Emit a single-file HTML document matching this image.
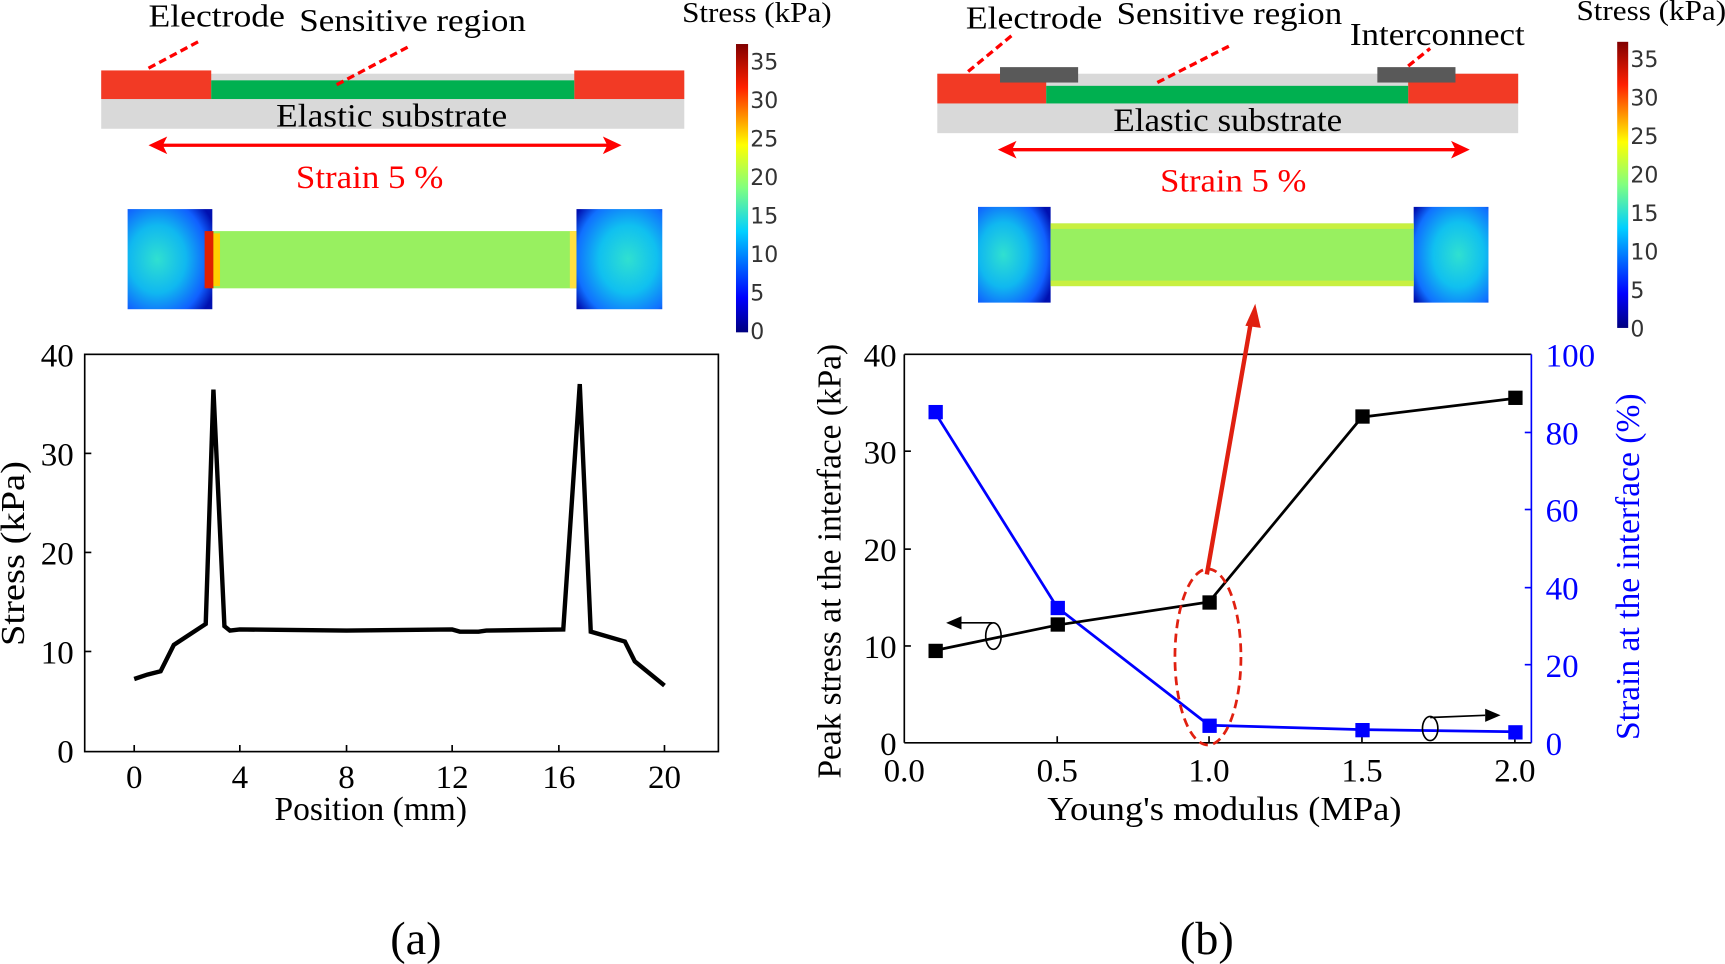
<!DOCTYPE html>
<html><head><meta charset="utf-8"><style>body{margin:0;background:#fff}svg{display:block}</style></head><body>
<svg width="1725" height="964" viewBox="0 0 1568 876" preserveAspectRatio="none" xmlns="http://www.w3.org/2000/svg" font-family="Liberation Serif, serif">
<defs>
<linearGradient id="cb" x1="0" y1="1" x2="0" y2="0">
<stop offset="0" stop-color="#00007f"/><stop offset="0.12" stop-color="#0000ff"/><stop offset="0.35" stop-color="#00d0ff"/><stop offset="0.5" stop-color="#80ff80"/><stop offset="0.65" stop-color="#ffff00"/><stop offset="0.85" stop-color="#ff2000"/><stop offset="1" stop-color="#800000"/></linearGradient>
<radialGradient id="elL" cx="0.35" cy="0.5" r="0.75"><stop offset="0" stop-color="#30e0d0"/><stop offset="0.45" stop-color="#10b8f0"/><stop offset="0.8" stop-color="#1060ff"/><stop offset="1" stop-color="#0010b0"/></radialGradient>
<radialGradient id="elR" cx="0.6" cy="0.5" r="0.75"><stop offset="0" stop-color="#30e0d0"/><stop offset="0.45" stop-color="#10c0f0"/><stop offset="0.8" stop-color="#1070ff"/><stop offset="1" stop-color="#0010b0"/></radialGradient>
</defs>
<!-- left diagram -->
<rect x="92" y="67" width="530" height="50" fill="#d9d9d9"/>
<rect x="92" y="64" width="100" height="26" fill="#f23a25"/><rect x="522" y="64" width="100" height="26" fill="#f23a25"/>
<rect x="192" y="73" width="330" height="17" fill="#00b050"/>
<text x="356" y="115" font-size="30" text-anchor="middle" textLength="210" lengthAdjust="spacingAndGlyphs">Elastic substrate</text>
<text x="135" y="24" font-size="29" textLength="124" lengthAdjust="spacingAndGlyphs">Electrode</text><text x="272" y="28" font-size="29" textLength="206" lengthAdjust="spacingAndGlyphs">Sensitive region</text>
<line x1="135" y1="62" x2="180" y2="38" stroke="red" stroke-width="3" stroke-dasharray="7,4"/>
<line x1="306" y1="77" x2="374" y2="41" stroke="red" stroke-width="3" stroke-dasharray="7,4"/>
<line x1="140" y1="132" x2="560" y2="132" stroke="red" stroke-width="3"/>
<path d="M135,132 L152,124 L148,132 L152,140 z M565,132 L548,124 L552,132 L548,140z" fill="red"/>
<text x="336" y="171" font-size="30" fill="red" text-anchor="middle" textLength="134" lengthAdjust="spacingAndGlyphs">Strain 5 %</text>
<rect x="116" y="190" width="77" height="91" fill="url(#elL)"/><rect x="524" y="190" width="78" height="91" fill="url(#elR)"/>
<rect x="193" y="210" width="331" height="52" fill="#98f060"/>
<rect x="186" y="210" width="8" height="52" fill="#e02000"/><rect x="194" y="212" width="6" height="48" fill="#ffd000"/>
<rect x="518" y="210" width="6" height="52" fill="#ffe040"/>
<rect x="669" y="40" width="11" height="262" fill="url(#cb)"/>
<g font-family="DejaVu Sans, sans-serif" font-size="20" fill="#333"><text x="682" y="63">35</text><text x="682" y="98">30</text><text x="682" y="133">25</text><text x="682" y="168">20</text><text x="682" y="203">15</text><text x="682" y="238">10</text><text x="682" y="273">5</text><text x="682" y="308">0</text></g>
<text x="620" y="20" font-size="26" textLength="136" lengthAdjust="spacingAndGlyphs">Stress (kPa)</text>
<!-- left chart -->
<rect x="77" y="322" width="576" height="361" fill="none" stroke="#000" stroke-width="1.5"/>
<g stroke="#000" stroke-width="1.5"><line x1="77" y1="412" x2="83" y2="412"/><line x1="77" y1="502" x2="83" y2="502"/><line x1="77" y1="592" x2="83" y2="592"/>
<line x1="122" y1="683" x2="122" y2="677"/><line x1="218" y1="683" x2="218" y2="677"/><line x1="315" y1="683" x2="315" y2="677"/><line x1="411" y1="683" x2="411" y2="677"/><line x1="508" y1="683" x2="508" y2="677"/><line x1="604" y1="683" x2="604" y2="677"/></g>
<g font-size="30" text-anchor="end"><text x="67" y="333">40</text><text x="67" y="423">30</text><text x="67" y="513">20</text><text x="67" y="603">10</text><text x="67" y="693">0</text></g>
<g font-size="30" text-anchor="middle"><text x="122" y="716">0</text><text x="218" y="716">4</text><text x="315" y="716">8</text><text x="411" y="716">12</text><text x="508" y="716">16</text><text x="604" y="716">20</text></g>
<text x="337" y="745" font-size="31" text-anchor="middle" textLength="175" lengthAdjust="spacingAndGlyphs">Position (mm)</text>
<text transform="translate(22,503) rotate(-90)" font-size="31" text-anchor="middle" textLength="168" lengthAdjust="spacingAndGlyphs">Stress (kPa)</text>
<polyline fill="none" stroke="#000" stroke-width="4" points="122,617 134,613 146,610 158,586 187,567 194,354 204,569 209,573 218,572 315,573 411,572 418,574 435,574 442,573 512,572 527,349 537,574 568,583 577,601 604,623"/>
<!-- right diagram -->
<rect x="852" y="67" width="528" height="54" fill="#d9d9d9"/>
<rect x="852" y="67" width="99" height="27" fill="#f23a25"/><rect x="1280" y="67" width="100" height="27" fill="#f23a25"/>
<rect x="951" y="78" width="329" height="16" fill="#00b050"/>
<rect x="909" y="61" width="71" height="14" fill="#595959"/><rect x="1252" y="61" width="71" height="14" fill="#595959"/>
<text x="1116" y="119" font-size="30" text-anchor="middle" textLength="208" lengthAdjust="spacingAndGlyphs">Elastic substrate</text>
<text x="878" y="26" font-size="29" textLength="124" lengthAdjust="spacingAndGlyphs">Electrode</text><text x="1015" y="22" font-size="29" textLength="205" lengthAdjust="spacingAndGlyphs">Sensitive region</text><text x="1227" y="41" font-size="29" textLength="159" lengthAdjust="spacingAndGlyphs">Interconnect</text>
<line x1="880" y1="65" x2="920" y2="32" stroke="red" stroke-width="3" stroke-dasharray="7,4"/>
<line x1="1052" y1="75" x2="1117" y2="42" stroke="red" stroke-width="3" stroke-dasharray="7,4"/>
<line x1="1280" y1="60" x2="1300" y2="44" stroke="red" stroke-width="3" stroke-dasharray="7,4"/>
<line x1="912" y1="136" x2="1331" y2="136" stroke="red" stroke-width="3"/>
<path d="M907,136 L924,128 L920,136 L924,144 z M1336,136 L1319,128 L1323,136 L1319,144z" fill="red"/>
<text x="1121" y="174" font-size="30" fill="red" text-anchor="middle" textLength="133" lengthAdjust="spacingAndGlyphs">Strain 5 %</text>
<rect x="889" y="188" width="66" height="87" fill="url(#elL)"/><rect x="1285" y="188" width="68" height="87" fill="url(#elR)"/>
<rect x="955" y="203" width="330" height="57" fill="#98f060"/>
<rect x="955" y="203" width="330" height="5" fill="#c8f040"/><rect x="955" y="255" width="330" height="5" fill="#c8f040"/>
<rect x="1470" y="38" width="10" height="260" fill="url(#cb)"/>
<g font-family="DejaVu Sans, sans-serif" font-size="20" fill="#333"><text x="1482" y="61">35</text><text x="1482" y="96">30</text><text x="1482" y="131">25</text><text x="1482" y="166">20</text><text x="1482" y="201">15</text><text x="1482" y="236">10</text><text x="1482" y="271">5</text><text x="1482" y="306">0</text></g>
<text x="1433" y="18" font-size="26" textLength="136" lengthAdjust="spacingAndGlyphs">Stress (kPa)</text>
<!-- right chart -->
<line x1="822" y1="322" x2="1392" y2="322" stroke="#000" stroke-width="1.5"/>
<line x1="822" y1="322" x2="822" y2="675" stroke="#000" stroke-width="1.5"/>
<line x1="822" y1="675" x2="1392" y2="675" stroke="#000" stroke-width="1.5"/>
<line x1="1392" y1="322" x2="1392" y2="675" stroke="#00f" stroke-width="1.5"/>
<g stroke="#000" stroke-width="1.5"><line x1="822" y1="410" x2="828" y2="410"/><line x1="822" y1="499" x2="828" y2="499"/><line x1="822" y1="587" x2="828" y2="587"/>
<line x1="961" y1="675" x2="961" y2="669"/><line x1="1099" y1="675" x2="1099" y2="669"/><line x1="1238" y1="675" x2="1238" y2="669"/><line x1="1377" y1="675" x2="1377" y2="669"/></g>
<g stroke="#00f" stroke-width="1.5"><line x1="1392" y1="393" x2="1386" y2="393"/><line x1="1392" y1="463" x2="1386" y2="463"/><line x1="1392" y1="534" x2="1386" y2="534"/><line x1="1392" y1="604" x2="1386" y2="604"/></g>
<g font-size="30" text-anchor="end"><text x="815" y="333">40</text><text x="815" y="421">30</text><text x="815" y="510">20</text><text x="815" y="598">10</text><text x="815" y="686">0</text></g>
<g font-size="30" fill="#00f"><text x="1405" y="333">100</text><text x="1405" y="404">80</text><text x="1405" y="474">60</text><text x="1405" y="545">40</text><text x="1405" y="615">20</text><text x="1405" y="686">0</text></g>
<g font-size="30" text-anchor="middle"><text x="822" y="710">0.0</text><text x="961" y="710">0.5</text><text x="1099" y="710">1.0</text><text x="1238" y="710">1.5</text><text x="1377" y="710">2.0</text></g>
<text x="1113" y="745" font-size="31" text-anchor="middle" textLength="322" lengthAdjust="spacingAndGlyphs">Young's modulus (MPa)</text>
<text transform="translate(764,510) rotate(-90)" font-size="31" text-anchor="middle" textLength="395" lengthAdjust="spacingAndGlyphs">Peak stress at the interface (kPa)</text>
<text transform="translate(1490,515) rotate(-90)" font-size="31" fill="#00f" text-anchor="middle" textLength="315" lengthAdjust="spacingAndGlyphs">Strain at the interface (%)</text>
<polyline fill="none" stroke="#00f" stroke-width="2.5" points="850,375 961,552 1099,659 1238,663 1377,665"/>
<polyline fill="none" stroke="#000" stroke-width="2.5" points="850,591 961,568 1099,547 1238,379 1377,362"/>
<g fill="#000"><rect x="844" y="585" width="13" height="13"/><rect x="955" y="561" width="13" height="13"/><rect x="1093" y="541" width="13" height="13"/><rect x="1232" y="372" width="13" height="13"/><rect x="1371" y="355" width="13" height="13"/></g>
<g fill="#00f"><rect x="844" y="368" width="13" height="13"/><rect x="955" y="546" width="13" height="13"/><rect x="1093" y="653" width="13" height="13"/><rect x="1232" y="657" width="13" height="13"/><rect x="1371" y="659" width="13" height="13"/></g>
<line x1="1097" y1="522" x2="1137" y2="293" stroke="#e02010" stroke-width="4"/>
<path d="M1141,276 L1146,298 L1132,296 z" fill="#e02010"/>
<ellipse cx="1098" cy="597" rx="30" ry="80" fill="none" stroke="#e02010" stroke-width="2.5" stroke-dasharray="8,5"/>
<line x1="873" y1="566" x2="902" y2="566" stroke="#000" stroke-width="1.5"/><path d="M860,566 L874,560 L874,572z" fill="#000"/>
<ellipse cx="903" cy="578" rx="7" ry="12" fill="none" stroke="#000" stroke-width="1.5"/>
<line x1="1300" y1="652" x2="1350" y2="650" stroke="#000" stroke-width="1.5"/><path d="M1364,650 L1350,644 L1350,656z" fill="#000"/>
<ellipse cx="1300" cy="662" rx="7" ry="11" fill="none" stroke="#000" stroke-width="1.5"/>
<text x="378" y="867" font-size="42" text-anchor="middle">(a)</text>
<text x="1097" y="867" font-size="42" text-anchor="middle">(b)</text>
</svg>
</body></html>
